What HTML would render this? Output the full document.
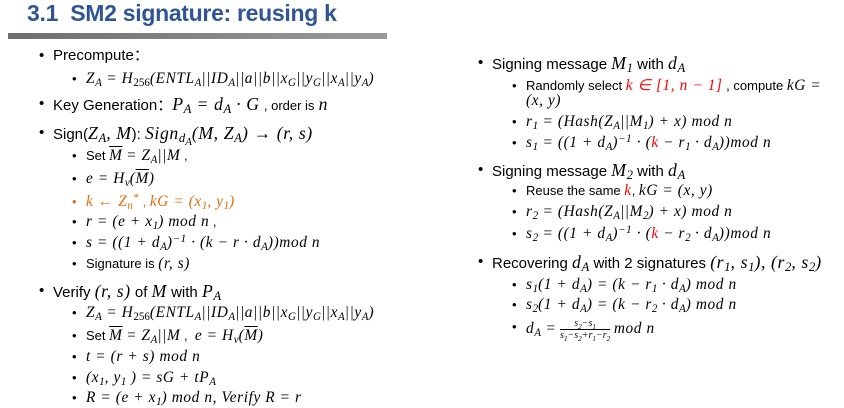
<!DOCTYPE html>
<html><head><meta charset="utf-8"><style>
body{margin:0;width:844px;height:407px;background:#fff;position:relative;overflow:hidden;font-family:"Liberation Sans",sans-serif;color:#000}
.t{position:absolute;left:27px;top:0px;font-size:23px;font-weight:bold;color:#2f5597;white-space:nowrap;letter-spacing:-0.3px}
.bar{position:absolute;left:8px;top:33px;width:379px;height:6px;background:linear-gradient(90deg,#6e6e6e,#9a9a9a)}
.l{position:absolute;white-space:nowrap;line-height:18px}
.a{font-size:15px}
.b{font-size:13px}
.l::before{content:"•";position:absolute;left:-14px;font-style:normal;font-family:"Liberation Sans",sans-serif}
.l.nb::before{content:none}
i{font-family:"Liberation Serif",serif;font-style:italic;font-size:1.18em;letter-spacing:0.6px}
i i{font-size:1em}
.o{color:#e46c0a}
.r{color:#f00}
sub{font-size:72%;vertical-align:-3px;line-height:0;letter-spacing:0}
sub sub{font-size:85%}
sup{font-size:72%;vertical-align:5px;line-height:0}
.ov{text-decoration:overline}
.fr{display:inline-block;vertical-align:middle;text-align:center;font-size:10px;font-family:"Liberation Serif",serif;font-style:italic;line-height:11px}
.fr span{display:block}
.fr span:first-child{border-bottom:1px solid #000}
</style></head><body>
<div class="t">3.1&nbsp; SM2 signature: reusing k</div>
<div class="bar"></div>

<div class="l a" style="left:53px;top:47px">Precompute：</div>
<div class="l b" style="left:86px;top:70px"><i>Z<sub>A</sub> = H<sub style="font-style:normal">256</sub>(ENTL<sub>A</sub>||ID<sub>A</sub>||a||b||x<sub>G</sub>||y<sub>G</sub>||x<sub>A</sub>||y<sub>A</sub>)</i></div>
<div class="l a" style="left:53px;top:95px">Key Generation：<i>P<sub>A</sub> = d<sub>A</sub> · G</i> <span style="font-size:13px">, order is</span> <i>n</i></div>
<div class="l a" style="left:53px;top:124px">Sign(<i>Z<sub>A</sub>, M</i>): <i>Sign<sub>d<sub>A</sub></sub>(M, Z<sub>A</sub>) → (r, s)</i></div>
<div class="l b" style="left:86px;top:147px">Set <i class="ov">M</i> <i>= Z<sub>A</sub>||M</i> ,</div>
<div class="l b" style="left:86px;top:170px"><i>e = H<sub>v</sub>(<span class="ov">M</span>)</i></div>
<div class="l b o" style="left:86px;top:193px"><i>k ← Z<sub>n</sub><sup>*</sup></i> , <i>kG = (x<sub>1</sub>, y<sub>1</sub>)</i></div>
<div class="l b" style="left:86px;top:213px"><i>r = (e + x<sub>1</sub>) mod n</i> ,</div>
<div class="l b" style="left:86px;top:234px"><i>s = ((1 + d<sub>A</sub>)<sup>−1</sup> · (k − r · d<sub>A</sub>))mod n</i></div>
<div class="l b" style="left:86px;top:255px">Signature is <i>(r, s)</i></div>
<div class="l a" style="left:53px;top:282px">Verify <i>(r, s)</i> of <i>M</i> with <i>P<sub>A</sub></i></div>
<div class="l b" style="left:86px;top:304px"><i>Z<sub>A</sub> = H<sub style="font-style:normal">256</sub>(ENTL<sub>A</sub>||ID<sub>A</sub>||a||b||x<sub>G</sub>||y<sub>G</sub>||x<sub>A</sub>||y<sub>A</sub>)</i></div>
<div class="l b" style="left:86px;top:327px">Set <i class="ov">M</i> <i>= Z<sub>A</sub>||M</i> ,&nbsp; <i>e = H<sub>v</sub>(<span class="ov">M</span>)</i></div>
<div class="l b" style="left:86px;top:348px"><i>t = (r + s) mod n</i></div>
<div class="l b" style="left:86px;top:369px"><i>(x<sub>1</sub>, y<sub>1</sub> ) = sG + tP<sub>A</sub></i></div>
<div class="l b" style="left:86px;top:389px"><i>R = (e + x<sub>1</sub>) mod n, Verify R = r</i></div>

<div class="l a" style="left:492px;top:54px">Signing message <i>M<sub>1</sub></i> with <i>d<sub>A</sub></i></div>
<div class="l b" style="left:526px;top:77px">Randomly select <i class="r">k ∈ [1, n − 1]</i> , compute <i>kG =</i></div>
<div class="l b nb" style="left:526px;top:92px;"><i>(x, y)</i></div>
<div class="l b" style="left:526px;top:113px"><i>r<sub>1</sub> = (Hash(Z<sub>A</sub>||M<sub>1</sub>) + x) mod n</i></div>
<div class="l b" style="left:526px;top:134px"><i>s<sub>1</sub> = ((1 + d<sub>A</sub>)<sup>−1</sup> · (<span class="r">k</span> − r<sub>1</sub> · d<sub>A</sub>))mod n</i></div>
<div class="l a" style="left:492px;top:161px">Signing message <i>M<sub>2</sub></i> with <i>d<sub>A</sub></i></div>
<div class="l b" style="left:526px;top:182px">Reuse the same <i class="r">k</i>, <i>kG = (x, y)</i></div>
<div class="l b" style="left:526px;top:203px"><i>r<sub>2</sub> = (Hash(Z<sub>A</sub>||M<sub>2</sub>) + x) mod n</i></div>
<div class="l b" style="left:526px;top:225px"><i>s<sub>2</sub> = ((1 + d<sub>A</sub>)<sup>−1</sup> · (<span class="r">k</span> − r<sub>2</sub> · d<sub>A</sub>))mod n</i></div>
<div class="l a" style="left:492px;top:253px">Recovering <i>d<sub>A</sub></i> with 2 signatures <i>(r<sub>1</sub>, s<sub>1</sub>), (r<sub>2</sub>, s<sub>2</sub>)</i></div>
<div class="l b" style="left:526px;top:276px"><i>s<sub>1</sub>(1 + d<sub>A</sub>) = (k − r<sub>1</sub> · d<sub>A</sub>) mod n</i></div>
<div class="l b" style="left:526px;top:296px"><i>s<sub>2</sub>(1 + d<sub>A</sub>) = (k − r<sub>2</sub> · d<sub>A</sub>) mod n</i></div>
<div class="l b" style="left:526px;top:318px"><i>d<sub>A</sub> =</i> <span class="fr"><span>s<sub>2</sub>−s<sub>1</sub></span><span>s<sub>1</sub>−s<sub>2</sub>+r<sub>1</sub>−r<sub>2</sub></span></span> <i>mod n</i></div>
</body></html>
